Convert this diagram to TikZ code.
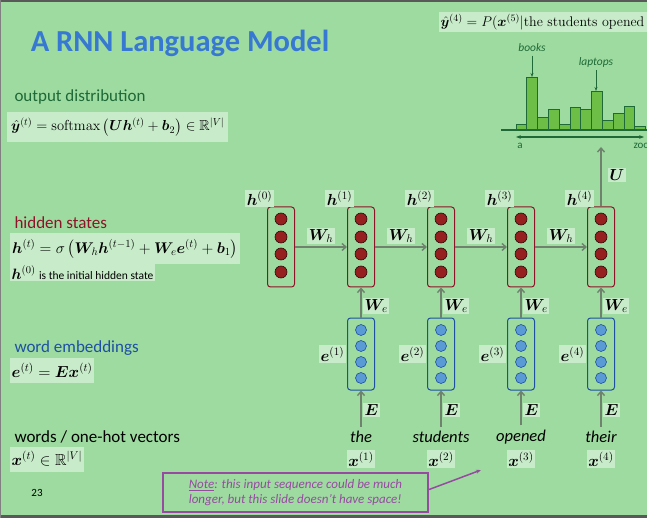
\RequirePackage{fix-cm}
\documentclass[tikz,border=0pt]{standalone}
\usepackage{amsmath,amssymb}
\usepackage{bm}
\usepackage[no-math]{fontspec}
\setmainfont{Carlito}
\newfontfamily\lmrom{Latin Modern Roman}
\usetikzlibrary{arrows.meta,calc}
\definecolor{bg}{RGB}{158,219,160}
\definecolor{lb}{RGB}{200,236,202}
\definecolor{hred}{RGB}{150,32,32}
\definecolor{hbord}{RGB}{140,20,40}
\definecolor{eblue}{RGB}{91,155,213}
\definecolor{ebord}{RGB}{30,80,160}
\definecolor{arr}{RGB}{110,130,110}
\definecolor{dg}{RGB}{30,105,55}
\definecolor{bar}{RGB}{108,190,70}
\definecolor{titleblue}{RGB}{55,120,210}
\definecolor{purp}{RGB}{150,75,160}
\tikzset{
  lab/.style={fill=lb,inner sep=1.5pt,font=\fontsize{16}{17}\selectfont},
  hbox/.style={draw=hbord,line width=1pt,rounded corners=3pt,minimum width=27pt,minimum height=80pt,inner sep=0pt},
  ebox/.style={draw=ebord,line width=1pt,rounded corners=3pt,minimum width=27pt,minimum height=72pt,inner sep=0pt},
  hc/.style={circle,fill=hred,draw=black!70!hred,line width=.6pt,minimum size=12pt,inner sep=0pt},
  ec/.style={circle,fill=eblue,draw=ebord,line width=.6pt,minimum size=11pt,inner sep=0pt},
  ar/.style={draw=arr,line width=1.4pt,-{Straight Barb[length=4pt,width=7pt]}},
  head/.style={anchor=base west,font=\fontsize{17}{19}\selectfont},
  word/.style={font=\fontsize{16.5}{18}\selectfont\itshape},
  bars/.style={fill=bar,draw=dg,line width=.9pt},
}
\begin{document}
\begin{tikzpicture}[x=1pt,y=-1pt]
\useasboundingbox (0,0) rectangle (647,518);
\clip (0,0) rectangle (647,518);
\fill[bg] (0,0) rectangle (647,518);
\fill[black!65] (0,0) rectangle (647,2);
\fill[black!65] (0,515) rectangle (647,518);
\fill[black!50] (0,0) rectangle (1.2,518);

\node[anchor=base,font=\fontsize{30.5}{32}\selectfont\bfseries,text=titleblue] (title) at (180,52) {A RNN Language Model};

% left side
\node[head,text=dg] (od) at (11,102) {output distribution};
\node[lab,anchor=west,minimum height=30pt,inner xsep=4pt,font=\fontsize{14.5}{15}\selectfont] (odf) at (7,127) {$\hat{\bm y}^{(t)}=\mathrm{softmax}\left(\bm U\bm h^{(t)}+\bm b_2\right)\in\mathbb{R}^{|V|}$};
\node[head,text=hbord] (hs) at (11,229) {hidden states};
\node[lab,anchor=west,minimum height=31pt,inner xsep=2pt,font=\fontsize{15.5}{16}\selectfont] (hsf) at (10,249) {$\bm h^{(t)}=\sigma\left(\bm W_h\bm h^{(t-1)}+\bm W_e\bm e^{(t)}+\bm b_1\right)$};
\node[lab,anchor=west,font=\fontsize{15}{15}\selectfont] (h0f) at (10,272.5) {$\bm h^{(0)}$ {\fontsize{11.5}{12}\selectfont is the initial hidden state}};
\node[head,text=ebord] (we) at (11,352) {word embeddings};
\node[lab,anchor=west,minimum height=25pt] (wef) at (10,370) {$\bm e^{(t)}=\bm E\bm x^{(t)}$};
\node[head,text=black] (wo) at (11,442) {words / one-hot vectors};
\node[lab,anchor=west,minimum height=25pt] (wof) at (10,459) {$\bm x^{(t)}\in\mathbb{R}^{|V|}$};
\node[font=\fontsize{11}{12}\selectfont] (pg) at (37,493) {23};

% hidden boxes
\foreach \i/\x in {0/281,1/361,2/441,3/521,4/601}{
  \node[hbox] (h\i) at (\x,247) {};
  \foreach \k/\yy in {1/219,2/237,3/254,4/272}
    \node[hc] (h\i c\k) at (\x,\yy) {};
  \node[lab,anchor=south east] (hl\i) at ([xshift=7pt,yshift=-1pt]h\i.north west) {$\bm h^{(\i)}$};
}
\foreach \i/\x/\w in {1/361/the,2/441/students,3/521/opened,4/601/their}{
  \node[ebox] (e\i) at (\x,354) {};
  \foreach \k/\yy in {1/330,2/346,3/362,4/378}
    \node[ec] (e\i c\k) at (\x,\yy) {};
  \node[lab,anchor=east] (el\i) at ([xshift=-1pt]e\i.west) {$\bm e^{(\i)}$};
  \node[word] (w\i) at (\x,437) {\w};
  \draw[ar] ([yshift=1pt]w\i.north) -- (e\i.south);
  \node[lab] (x\i) at (\x,459) {$\bm x^{(\i)}$};
  \node[lab,anchor=west] (El\i) at (\x+2,410) {$\bm E$};
  \draw[ar] (e\i.north) -- (h\i.south);
  \node[lab,anchor=west] (Wel\i) at (\x+2,306) {$\bm W_e$};
}
\foreach \a/\b in {0/1,1/2,2/3,3/4}{
  \draw[ar] (h\a.east) -- (h\b.west);
  \node[lab] (Wh\a) at ($(h\a.east)!0.5!(h\b.west)+(0,-11)$) {$\bm W_h$};
}
% output
\coordinate (ytop) at (601,147);
\draw[ar] (h4.north) -- (ytop);
\node[lab] (Ul) at (617,175) {$\bm U$};

% histogram
\foreach \i/\t in {0/124,1/77,2/117,3/109,4/124,5/107,6/109,7/91,8/120,9/113,10/106,11/126}
  \draw[bars] (516+\i*10.8,130) rectangle (526.8+\i*10.8,\t);
\draw[dg,line width=1.2pt] (501,130) -- (660,130);
\coordinate (ha) at (516,137);
\coordinate (hz) at (644,137);
\draw[dg,line width=1.2pt,{Stealth[length=5pt]}-{Stealth[length=5pt]}] (ha) -- (hz);
\node[text=dg,font=\fontsize{11}{12}\selectfont] (la) at (520,146) {a};
\node[text=dg,font=\fontsize{11}{12}\selectfont,anchor=west] (lz) at (630,146) {zoo};
\node[text=dg,font=\fontsize{11.5}{12}\selectfont\itshape] (bk) at (532,48) {books};
\coordinate (bkt) at (532,77);
\draw[dg,line width=1pt,-{Stealth[length=4pt]}] (bk.south) -- (bkt);
\node[text=dg,font=\fontsize{11.5}{12}\selectfont\itshape] (lp) at (596,62) {laptops};
\coordinate (lpt) at (596,91);
\draw[dg,line width=1pt,-{Stealth[length=4pt]}] (lp.south) -- (lpt);
\node[lab,anchor=west,font=\fontsize{14}{15}\selectfont,minimum height=20pt] (yf) at (439,22) {$\hat{\bm y}^{(4)}=P(\bm x^{(5)}|\text{\lmrom the students opened their})$};

% note
\node[draw=purp,line width=2.2pt,minimum width=265pt,minimum height=39pt,text=purp,align=left,font=\fontsize{13}{15}\selectfont\itshape] (note) at (295.5,492.5) {\underline{Note}: this input sequence could be much\\longer, but this slide doesn’t have space!};
\coordinate (nt) at (481,470);
\draw[purp,line width=1.5pt,-{Stealth[length=5pt]}] ([yshift=3pt]note.east) -- (nt);
\end{tikzpicture}
\end{document}
